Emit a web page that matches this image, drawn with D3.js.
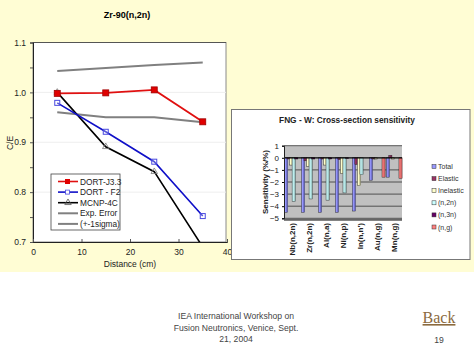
<!DOCTYPE html>
<html><head><meta charset="utf-8">
<script src="https://cdn.jsdelivr.net/npm/d3@7"></script>
<style>
html,body{margin:0;padding:0;background:#fff;}
svg{display:block;font-family:"Liberation Sans",Arial,sans-serif;}
</style></head>
<body>
<svg id="c" width="474" height="355"></svg>
<script>
// ---- Left chart data ----
const distances = [5, 15, 25, 35];
const dortJ33 = [0.998, 0.999, 1.005, 0.941];
const dortF2 = [0.979, 0.921, 0.861, 0.752];
const mcnp4c = [1.0, 0.891, 0.841, 0.69];
const expUpper = [1.043, 1.049, 1.055, 1.06];
const expLower = [0.96, 0.95, 0.95, 0.94];
const xTicks = [0, 10, 20, 30, 40];
const yTicks = [0.7, 0.8, 0.9, 1.0, 1.1];
const legendLabels = ["DORT-J3.3", "DORT - F2", "MCNP-4C", "Exp. Error", "(+-1sigma)"];

// ---- Right chart data ----
const categories = ["Nb(n,2n)", "Zr(n,2n)", "Al(n,a)", "Ni(n,p)", "In(n,n')", "Au(n,g)", "Mn(n,g)"];
const seriesNames = ["Total", "Elastic", "Inelastic", "(n,2n)", "(n,3n)", "(n,g)"];
const total = [-4.5, -4.5, -4.5, -4.5, -4.4, -1.85, -1.6];
const elastic = [-0.1, -0.25, -0.1, -0.15, -0.55, -0.1, 0.2];
const inelastic = [-0.6, -0.7, -0.6, -1.3, -2.3, -0.1, -0.1];
const n2n = [-3.6, -3.4, -3.5, -2.9, -1.4, 0, 0];
const n3n = [-0.1, -0.1, -0.1, -0.05, 0, 0, 0];
const ng = [0, 0, 0, 0, 0, -1.6, -1.7];
const sensTicks = [1, 0, -1, -2, -3, -4, -5];

const svg = d3.select("#c");
svg.append("rect").attr("x",0).attr("y",0).attr("width",474).attr("height",272).attr("fill","#fffdd4");

// ================= LEFT CHART =================
const L = {x0:33, x1:226, y0:42.5, y1:242};
const x = d3.scaleLinear().domain([0,40]).range([L.x0, L.x1+1]);
const y = d3.scaleLinear().domain([0.7,1.1]).range([L.y1, L.y0]);

svg.append("text").attr("x",127).attr("y",18).attr("text-anchor","middle")
  .attr("font-size",9).attr("font-weight","bold").text("Zr-90(n,2n)");

svg.append("rect").attr("x",L.x0).attr("y",L.y0).attr("width",L.x1-L.x0).attr("height",L.y1-L.y0)
  .attr("fill","#fff").attr("stroke","#8a8a8a").attr("stroke-width",1);
svg.append("g").selectAll("line").data([0.8,0.9,1.0]).join("line")
  .attr("x1",L.x0).attr("x2",L.x1).attr("y1",d=>y(d)).attr("y2",d=>y(d))
  .attr("stroke","#eeeeee").attr("stroke-width",1);
svg.append("line").attr("x1",L.x0).attr("x2",L.x1).attr("y1",L.y0).attr("y2",L.y0).attr("stroke","#555");

const yAxis = d3.axisLeft(y).tickValues(d3.range(0.7,1.1001,0.05)).tickSize(3)
  .tickFormat(d => (Math.abs(d*10 - Math.round(d*10))<1e-6) ? d3.format(".1f")(d) : "");
const gy = svg.append("g").attr("transform",`translate(${L.x0},0)`).call(yAxis);
gy.select(".domain").attr("stroke","#222");
gy.selectAll("text").attr("font-size",8.5).attr("fill","#222").attr("dx",-1);
gy.selectAll(".tick line").attr("stroke","#555");

const xAxis = d3.axisBottom(x).tickValues(xTicks).tickSize(-3).tickPadding(7);
const gx = svg.append("g").attr("transform",`translate(0,${L.y1})`).call(xAxis);
gx.select(".domain").attr("stroke","#222");
gx.selectAll("text").attr("font-size",8.5).attr("fill","#222");
gx.selectAll(".tick line").attr("stroke","#555");

svg.append("text").attr("x",130).attr("y",267).attr("text-anchor","middle").attr("font-size",8.5).attr("fill","#222").text("Distance (cm)");
svg.append("text").attr("transform","translate(13,143) rotate(-90)").attr("text-anchor","middle").attr("font-size",8.5).attr("fill","#222").text("C/E");

svg.append("clipPath").attr("id","lclip").append("rect").attr("x",L.x0).attr("y",L.y0).attr("width",L.x1-L.x0).attr("height",L.y1-L.y0);
const lg = svg.append("g").attr("clip-path","url(#lclip)");
const line = d3.line().x((d,i)=>x(distances[i])).y(d=>y(d));
lg.append("path").datum(expUpper).attr("d",line).attr("fill","none").attr("stroke","#808080").attr("stroke-width",2);
lg.append("path").datum(expLower).attr("d",line).attr("fill","none").attr("stroke","#808080").attr("stroke-width",2);
lg.append("path").datum(mcnp4c).attr("d",line).attr("fill","none").attr("stroke","#000").attr("stroke-width",1.6);
lg.append("path").datum(dortF2).attr("d",line).attr("fill","none").attr("stroke","#1010c8").attr("stroke-width",1.6);
lg.append("path").datum(dortJ33).attr("d",line).attr("fill","none").attr("stroke","#e01010").attr("stroke-width",1.8);
const tri = d3.symbol().type(d3.symbolTriangle).size(18);
lg.selectAll(".mt").data(mcnp4c).join("path").attr("transform",(d,i)=>`translate(${x(distances[i])},${y(d)})`)
  .attr("d",tri()).attr("fill","none").attr("stroke","#777").attr("stroke-width",0.8);
lg.selectAll(".mb").data(dortF2).join("rect").attr("x",(d,i)=>x(distances[i])-2.5).attr("y",d=>y(d)-2.5)
  .attr("width",5).attr("height",5).attr("fill","#fff").attr("fill-opacity",0.3).attr("stroke","#4a4adf").attr("stroke-width",1);
lg.selectAll(".mr").data(dortJ33).join("rect").attr("x",(d,i)=>x(distances[i])-3).attr("y",d=>y(d)-3)
  .attr("width",6).attr("height",6).attr("fill","#e00000").attr("stroke","#a00000").attr("stroke-width",0.8);

// legend
const leg = svg.append("g");
leg.append("rect").attr("x",51).attr("y",174).attr("width",69).attr("height",56).attr("fill","#fff").attr("stroke","#444").attr("stroke-width",0.8);
const legColors = ["#e01010","#1010c8","#000","#808080","#808080"];
legendLabels.forEach((t,i)=>{
  const yy = 181.5 + i*10.6;
  leg.append("line").attr("x1",58).attr("x2",78).attr("y1",yy).attr("y2",yy).attr("stroke",legColors[i]).attr("stroke-width",i>=3?2:1.6);
  if(i===0) leg.append("rect").attr("x",65).attr("y",yy-2.5).attr("width",5).attr("height",5).attr("fill","#e00000");
  if(i===1) leg.append("rect").attr("x",65.5).attr("y",yy-2).attr("width",4).attr("height",4).attr("fill","#fff").attr("stroke","#4a4adf").attr("stroke-width",0.8);
  if(i===2) leg.append("path").attr("transform",`translate(68,${yy})`).attr("d",tri()).attr("fill","none").attr("stroke","#555").attr("stroke-width",0.8);
  leg.append("text").attr("x",80).attr("y",yy+3).attr("font-size",8.3).attr("fill","#222").text(t);
});

// ================= RIGHT CHART =================
svg.append("rect").attr("x",231.5).attr("y",109.5).attr("width",238.5).attr("height",150).attr("fill","#fff").attr("stroke","#777").attr("stroke-width",1);
svg.append("text").attr("x",347).attr("y",123).attr("text-anchor","middle").attr("font-size",8.3).attr("font-weight","bold").attr("fill","#222").text("FNG - W: Cross-section sensitivity");

const R = {x0:284, x1:402};
const ys = d3.scaleLinear().domain([-5,1]).range([218.3,145.7]);
const xb = d3.scaleBand().domain(categories).range([R.x0,R.x1]).paddingInner(0.1).paddingOuter(0.03);
const xi = d3.scaleBand().domain(seriesNames).range([0,xb.bandwidth()]).padding(0);

svg.append("rect").attr("x",R.x0).attr("y",ys(1)).attr("width",R.x1-R.x0).attr("height",ys(-5)-ys(1)).attr("fill","#c0c0c0");
svg.append("g").selectAll("line").data(sensTicks.filter(d=>d!==0)).join("line")
  .attr("x1",R.x0).attr("x2",R.x1).attr("y1",d=>ys(d)).attr("y2",d=>ys(d)).attr("stroke","#333").attr("stroke-width",0.8);
svg.append("rect").attr("x",R.x0).attr("y",ys(-5)).attr("width",R.x1-R.x0).attr("height",2.5).attr("fill","#666");

const seriesData = [total, elastic, inelastic, n2n, n3n, ng];
const seriesColors = ["#9999ff","#993366","#ffffcc","#ccffff","#660066","#ff8080"];
const seriesSide = ["#5a5ab0","#5e1f40","#a8a880","#80a8a8","#330033","#b05050"];
const bars = svg.append("g");
seriesData.forEach((vals,s)=>{
  const bw = xi.bandwidth();
  bars.selectAll(".s"+s).data(vals).join("rect")
    .attr("x",(d,i)=>xb(categories[i])+xi(seriesNames[s]))
    .attr("y",d=>ys(Math.max(0,d)))
    .attr("width",bw+0.6)
    .attr("height",d=>Math.abs(ys(d)-ys(0)))
    .attr("fill",seriesColors[s]).attr("stroke","#222").attr("stroke-width",0.45);
  bars.selectAll(".d"+s).data(vals).join("rect")
    .attr("x",(d,i)=>xb(categories[i])+xi(seriesNames[s])+bw*0.6)
    .attr("y",d=>ys(Math.max(0,d)))
    .attr("width",bw*0.4+0.6)
    .attr("height",d=>Math.abs(ys(d)-ys(0)))
    .attr("fill",seriesSide[s]).attr("opacity",0.6);
});
svg.append("line").attr("x1",R.x0).attr("x2",R.x1).attr("y1",ys(0)).attr("y2",ys(0)).attr("stroke","#000").attr("stroke-width",1.2);

const ga = svg.append("g").attr("transform",`translate(${R.x0},0)`).call(d3.axisLeft(ys).tickValues(sensTicks).tickSize(2).tickFormat(d3.format("d")));
ga.select(".domain").attr("stroke","#222");
ga.selectAll("text").attr("font-size",8).attr("fill","#222");
svg.append("text").attr("transform","translate(268,182) rotate(-90)").attr("text-anchor","middle").attr("font-size",8).attr("font-weight","bold").attr("fill","#222").text("Sensitivity (%/%)");

svg.append("g").selectAll("text").data(categories).join("text")
  .attr("transform",d=>`translate(${xb(d)+xb.bandwidth()/2+3},223) rotate(-90)`)
  .attr("text-anchor","end").attr("font-size",8).attr("font-weight","bold").attr("fill","#222").text(d=>d);

// right legend
seriesNames.forEach((n,i)=>{
  const yy = 167 + i*12.1;
  svg.append("rect").attr("x",432).attr("y",yy-2.5).attr("width",4).attr("height",4).attr("fill",seriesColors[i]).attr("stroke","#333").attr("stroke-width",0.5);
  svg.append("text").attr("x",438).attr("y",yy+2).attr("font-size",7).attr("fill","#333").text(n);
});

// ================= FOOTER =================
const footer = ["IEA International Workshop on","Fusion Neutronics, Venice, Sept.","21, 2004"];
svg.append("g").selectAll("text").data(footer).join("text")
  .attr("x",236).attr("y",(d,i)=>319+i*11.7).attr("text-anchor","middle").attr("font-size",8.6).attr("fill","#444").text(d=>d);
svg.append("text").attr("x",439).attr("y",323).attr("text-anchor","middle").attr("font-family","'Liberation Serif',serif").attr("font-size",16).attr("fill","#8b6a3e").attr("text-decoration","underline").text("Back");
svg.append("text").attr("x",439).attr("y",343).attr("text-anchor","middle").attr("font-size",8.6).attr("fill","#444").text("19");
</script>
</body></html>
